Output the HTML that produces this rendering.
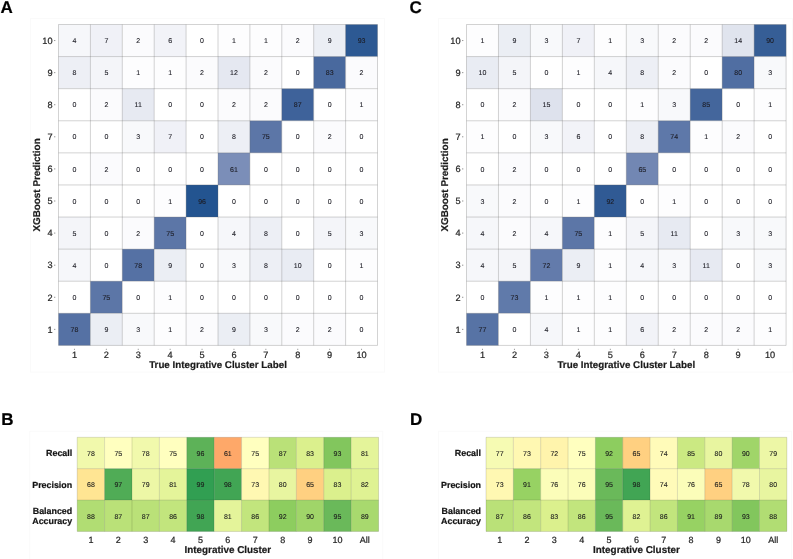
<!DOCTYPE html>
<html><head><meta charset="utf-8"><title>XGBoost confusion matrices</title>
<style>
html,body{margin:0;padding:0;background:#fff;}
body{width:793px;height:559px;overflow:hidden;}
svg{display:block;font-family:'Liberation Sans', Arial, Helvetica, sans-serif;text-rendering:geometricPrecision;}
</style></head>
<body>
<svg width="793" height="559" viewBox="0 0 793 559">
<rect x="0" y="0" width="793" height="559" fill="#fff"/>
<rect x="30.5" y="18.5" width="354.0" height="353.5" fill="none" stroke="#fafafa" stroke-width="1"/>
<text x="0.60" y="13.10" font-size="17" font-weight="bold" text-anchor="start" fill="#000" stroke="#000" stroke-width="0.2">A</text>
<rect x="58.50" y="24.50" width="31.95" height="32.14" fill="#f6f7fa"/>
<rect x="90.40" y="24.50" width="31.95" height="32.14" fill="#f0f1f7"/>
<rect x="122.30" y="24.50" width="31.95" height="32.14" fill="#fbfbfd"/>
<rect x="154.20" y="24.50" width="31.95" height="32.14" fill="#f2f3f8"/>
<rect x="186.10" y="24.50" width="31.95" height="32.14" fill="#ffffff"/>
<rect x="218.00" y="24.50" width="31.95" height="32.14" fill="#fdfdfe"/>
<rect x="249.90" y="24.50" width="31.95" height="32.14" fill="#fdfdfe"/>
<rect x="281.80" y="24.50" width="31.95" height="32.14" fill="#fbfbfd"/>
<rect x="313.70" y="24.50" width="31.95" height="32.14" fill="#ebeef4"/>
<rect x="345.60" y="24.50" width="31.95" height="32.14" fill="#2d5993"/>
<rect x="58.50" y="56.59" width="31.95" height="32.14" fill="#edeff5"/>
<rect x="90.40" y="56.59" width="31.95" height="32.14" fill="#f4f5f9"/>
<rect x="122.30" y="56.59" width="31.95" height="32.14" fill="#fdfdfe"/>
<rect x="154.20" y="56.59" width="31.95" height="32.14" fill="#fdfdfe"/>
<rect x="186.10" y="56.59" width="31.95" height="32.14" fill="#fbfbfd"/>
<rect x="218.00" y="56.59" width="31.95" height="32.14" fill="#e5e8f1"/>
<rect x="249.90" y="56.59" width="31.95" height="32.14" fill="#fbfbfd"/>
<rect x="281.80" y="56.59" width="31.95" height="32.14" fill="#ffffff"/>
<rect x="313.70" y="56.59" width="31.95" height="32.14" fill="#49699e"/>
<rect x="345.60" y="56.59" width="31.95" height="32.14" fill="#fbfbfd"/>
<rect x="58.50" y="88.68" width="31.95" height="32.14" fill="#ffffff"/>
<rect x="90.40" y="88.68" width="31.95" height="32.14" fill="#fbfbfd"/>
<rect x="122.30" y="88.68" width="31.95" height="32.14" fill="#e7eaf2"/>
<rect x="154.20" y="88.68" width="31.95" height="32.14" fill="#ffffff"/>
<rect x="186.10" y="88.68" width="31.95" height="32.14" fill="#ffffff"/>
<rect x="218.00" y="88.68" width="31.95" height="32.14" fill="#fbfbfd"/>
<rect x="249.90" y="88.68" width="31.95" height="32.14" fill="#fbfbfd"/>
<rect x="281.80" y="88.68" width="31.95" height="32.14" fill="#3e629a"/>
<rect x="313.70" y="88.68" width="31.95" height="32.14" fill="#ffffff"/>
<rect x="345.60" y="88.68" width="31.95" height="32.14" fill="#fdfdfe"/>
<rect x="58.50" y="120.77" width="31.95" height="32.14" fill="#ffffff"/>
<rect x="90.40" y="120.77" width="31.95" height="32.14" fill="#ffffff"/>
<rect x="122.30" y="120.77" width="31.95" height="32.14" fill="#f8f9fb"/>
<rect x="154.20" y="120.77" width="31.95" height="32.14" fill="#f0f1f7"/>
<rect x="186.10" y="120.77" width="31.95" height="32.14" fill="#ffffff"/>
<rect x="218.00" y="120.77" width="31.95" height="32.14" fill="#edeff5"/>
<rect x="249.90" y="120.77" width="31.95" height="32.14" fill="#5c76a7"/>
<rect x="281.80" y="120.77" width="31.95" height="32.14" fill="#ffffff"/>
<rect x="313.70" y="120.77" width="31.95" height="32.14" fill="#fbfbfd"/>
<rect x="345.60" y="120.77" width="31.95" height="32.14" fill="#ffffff"/>
<rect x="58.50" y="152.86" width="31.95" height="32.14" fill="#ffffff"/>
<rect x="90.40" y="152.86" width="31.95" height="32.14" fill="#fbfbfd"/>
<rect x="122.30" y="152.86" width="31.95" height="32.14" fill="#ffffff"/>
<rect x="154.20" y="152.86" width="31.95" height="32.14" fill="#ffffff"/>
<rect x="186.10" y="152.86" width="31.95" height="32.14" fill="#ffffff"/>
<rect x="218.00" y="152.86" width="31.95" height="32.14" fill="#7b8eb8"/>
<rect x="249.90" y="152.86" width="31.95" height="32.14" fill="#ffffff"/>
<rect x="281.80" y="152.86" width="31.95" height="32.14" fill="#ffffff"/>
<rect x="313.70" y="152.86" width="31.95" height="32.14" fill="#ffffff"/>
<rect x="345.60" y="152.86" width="31.95" height="32.14" fill="#ffffff"/>
<rect x="58.50" y="184.95" width="31.95" height="32.14" fill="#ffffff"/>
<rect x="90.40" y="184.95" width="31.95" height="32.14" fill="#ffffff"/>
<rect x="122.30" y="184.95" width="31.95" height="32.14" fill="#ffffff"/>
<rect x="154.20" y="184.95" width="31.95" height="32.14" fill="#fdfdfe"/>
<rect x="186.10" y="184.95" width="31.95" height="32.14" fill="#235490"/>
<rect x="218.00" y="184.95" width="31.95" height="32.14" fill="#ffffff"/>
<rect x="249.90" y="184.95" width="31.95" height="32.14" fill="#ffffff"/>
<rect x="281.80" y="184.95" width="31.95" height="32.14" fill="#ffffff"/>
<rect x="313.70" y="184.95" width="31.95" height="32.14" fill="#ffffff"/>
<rect x="345.60" y="184.95" width="31.95" height="32.14" fill="#ffffff"/>
<rect x="58.50" y="217.04" width="31.95" height="32.14" fill="#f4f5f9"/>
<rect x="90.40" y="217.04" width="31.95" height="32.14" fill="#ffffff"/>
<rect x="122.30" y="217.04" width="31.95" height="32.14" fill="#fbfbfd"/>
<rect x="154.20" y="217.04" width="31.95" height="32.14" fill="#5c76a7"/>
<rect x="186.10" y="217.04" width="31.95" height="32.14" fill="#ffffff"/>
<rect x="218.00" y="217.04" width="31.95" height="32.14" fill="#f6f7fa"/>
<rect x="249.90" y="217.04" width="31.95" height="32.14" fill="#edeff5"/>
<rect x="281.80" y="217.04" width="31.95" height="32.14" fill="#ffffff"/>
<rect x="313.70" y="217.04" width="31.95" height="32.14" fill="#f4f5f9"/>
<rect x="345.60" y="217.04" width="31.95" height="32.14" fill="#f8f9fb"/>
<rect x="58.50" y="249.13" width="31.95" height="32.14" fill="#f6f7fa"/>
<rect x="90.40" y="249.13" width="31.95" height="32.14" fill="#ffffff"/>
<rect x="122.30" y="249.13" width="31.95" height="32.14" fill="#5571a4"/>
<rect x="154.20" y="249.13" width="31.95" height="32.14" fill="#ebeef4"/>
<rect x="186.10" y="249.13" width="31.95" height="32.14" fill="#ffffff"/>
<rect x="218.00" y="249.13" width="31.95" height="32.14" fill="#f8f9fb"/>
<rect x="249.90" y="249.13" width="31.95" height="32.14" fill="#edeff5"/>
<rect x="281.80" y="249.13" width="31.95" height="32.14" fill="#e9ecf3"/>
<rect x="313.70" y="249.13" width="31.95" height="32.14" fill="#ffffff"/>
<rect x="345.60" y="249.13" width="31.95" height="32.14" fill="#fdfdfe"/>
<rect x="58.50" y="281.22" width="31.95" height="32.14" fill="#ffffff"/>
<rect x="90.40" y="281.22" width="31.95" height="32.14" fill="#5c76a7"/>
<rect x="122.30" y="281.22" width="31.95" height="32.14" fill="#ffffff"/>
<rect x="154.20" y="281.22" width="31.95" height="32.14" fill="#fdfdfe"/>
<rect x="186.10" y="281.22" width="31.95" height="32.14" fill="#ffffff"/>
<rect x="218.00" y="281.22" width="31.95" height="32.14" fill="#ffffff"/>
<rect x="249.90" y="281.22" width="31.95" height="32.14" fill="#ffffff"/>
<rect x="281.80" y="281.22" width="31.95" height="32.14" fill="#ffffff"/>
<rect x="313.70" y="281.22" width="31.95" height="32.14" fill="#ffffff"/>
<rect x="345.60" y="281.22" width="31.95" height="32.14" fill="#ffffff"/>
<rect x="58.50" y="313.31" width="31.95" height="32.14" fill="#5571a4"/>
<rect x="90.40" y="313.31" width="31.95" height="32.14" fill="#ebeef4"/>
<rect x="122.30" y="313.31" width="31.95" height="32.14" fill="#f8f9fb"/>
<rect x="154.20" y="313.31" width="31.95" height="32.14" fill="#fdfdfe"/>
<rect x="186.10" y="313.31" width="31.95" height="32.14" fill="#fbfbfd"/>
<rect x="218.00" y="313.31" width="31.95" height="32.14" fill="#ebeef4"/>
<rect x="249.90" y="313.31" width="31.95" height="32.14" fill="#f8f9fb"/>
<rect x="281.80" y="313.31" width="31.95" height="32.14" fill="#fbfbfd"/>
<rect x="313.70" y="313.31" width="31.95" height="32.14" fill="#fbfbfd"/>
<rect x="345.60" y="313.31" width="31.95" height="32.14" fill="#ffffff"/>
<path d="M58.50 24.50V345.40M90.40 24.50V345.40M122.30 24.50V345.40M154.20 24.50V345.40M186.10 24.50V345.40M218.00 24.50V345.40M249.90 24.50V345.40M281.80 24.50V345.40M313.70 24.50V345.40M345.60 24.50V345.40M377.50 24.50V345.40M58.50 24.50H377.50M58.50 56.59H377.50M58.50 88.68H377.50M58.50 120.77H377.50M58.50 152.86H377.50M58.50 184.95H377.50M58.50 217.04H377.50M58.50 249.13H377.50M58.50 281.22H377.50M58.50 313.31H377.50M58.50 345.40H377.50" fill="none" stroke="rgba(100,100,100,0.32)" stroke-width="0.9"/>
<text x="74.45" y="43.20" font-size="7.0" font-weight="normal" text-anchor="middle" fill="#1c1c24" stroke="#1c1c24" stroke-width="0.1">4</text>
<text x="106.35" y="43.20" font-size="7.0" font-weight="normal" text-anchor="middle" fill="#1c1c24" stroke="#1c1c24" stroke-width="0.1">7</text>
<text x="138.25" y="43.20" font-size="7.0" font-weight="normal" text-anchor="middle" fill="#1c1c24" stroke="#1c1c24" stroke-width="0.1">2</text>
<text x="170.15" y="43.20" font-size="7.0" font-weight="normal" text-anchor="middle" fill="#1c1c24" stroke="#1c1c24" stroke-width="0.1">6</text>
<text x="202.05" y="43.20" font-size="7.0" font-weight="normal" text-anchor="middle" fill="#1c1c24" stroke="#1c1c24" stroke-width="0.1">0</text>
<text x="233.95" y="43.20" font-size="7.0" font-weight="normal" text-anchor="middle" fill="#1c1c24" stroke="#1c1c24" stroke-width="0.1">1</text>
<text x="265.85" y="43.20" font-size="7.0" font-weight="normal" text-anchor="middle" fill="#1c1c24" stroke="#1c1c24" stroke-width="0.1">1</text>
<text x="297.75" y="43.20" font-size="7.0" font-weight="normal" text-anchor="middle" fill="#1c1c24" stroke="#1c1c24" stroke-width="0.1">2</text>
<text x="329.65" y="43.20" font-size="7.0" font-weight="normal" text-anchor="middle" fill="#1c1c24" stroke="#1c1c24" stroke-width="0.1">9</text>
<text x="361.55" y="43.20" font-size="7.0" font-weight="normal" text-anchor="middle" fill="#1c1c24" stroke="#1c1c24" stroke-width="0.1">93</text>
<text x="74.45" y="75.29" font-size="7.0" font-weight="normal" text-anchor="middle" fill="#1c1c24" stroke="#1c1c24" stroke-width="0.1">8</text>
<text x="106.35" y="75.29" font-size="7.0" font-weight="normal" text-anchor="middle" fill="#1c1c24" stroke="#1c1c24" stroke-width="0.1">5</text>
<text x="138.25" y="75.29" font-size="7.0" font-weight="normal" text-anchor="middle" fill="#1c1c24" stroke="#1c1c24" stroke-width="0.1">1</text>
<text x="170.15" y="75.29" font-size="7.0" font-weight="normal" text-anchor="middle" fill="#1c1c24" stroke="#1c1c24" stroke-width="0.1">1</text>
<text x="202.05" y="75.29" font-size="7.0" font-weight="normal" text-anchor="middle" fill="#1c1c24" stroke="#1c1c24" stroke-width="0.1">2</text>
<text x="233.95" y="75.29" font-size="7.0" font-weight="normal" text-anchor="middle" fill="#1c1c24" stroke="#1c1c24" stroke-width="0.1">12</text>
<text x="265.85" y="75.29" font-size="7.0" font-weight="normal" text-anchor="middle" fill="#1c1c24" stroke="#1c1c24" stroke-width="0.1">2</text>
<text x="297.75" y="75.29" font-size="7.0" font-weight="normal" text-anchor="middle" fill="#1c1c24" stroke="#1c1c24" stroke-width="0.1">0</text>
<text x="329.65" y="75.29" font-size="7.0" font-weight="normal" text-anchor="middle" fill="#1c1c24" stroke="#1c1c24" stroke-width="0.1">83</text>
<text x="361.55" y="75.29" font-size="7.0" font-weight="normal" text-anchor="middle" fill="#1c1c24" stroke="#1c1c24" stroke-width="0.1">2</text>
<text x="74.45" y="107.38" font-size="7.0" font-weight="normal" text-anchor="middle" fill="#1c1c24" stroke="#1c1c24" stroke-width="0.1">0</text>
<text x="106.35" y="107.38" font-size="7.0" font-weight="normal" text-anchor="middle" fill="#1c1c24" stroke="#1c1c24" stroke-width="0.1">2</text>
<text x="138.25" y="107.38" font-size="7.0" font-weight="normal" text-anchor="middle" fill="#1c1c24" stroke="#1c1c24" stroke-width="0.1">11</text>
<text x="170.15" y="107.38" font-size="7.0" font-weight="normal" text-anchor="middle" fill="#1c1c24" stroke="#1c1c24" stroke-width="0.1">0</text>
<text x="202.05" y="107.38" font-size="7.0" font-weight="normal" text-anchor="middle" fill="#1c1c24" stroke="#1c1c24" stroke-width="0.1">0</text>
<text x="233.95" y="107.38" font-size="7.0" font-weight="normal" text-anchor="middle" fill="#1c1c24" stroke="#1c1c24" stroke-width="0.1">2</text>
<text x="265.85" y="107.38" font-size="7.0" font-weight="normal" text-anchor="middle" fill="#1c1c24" stroke="#1c1c24" stroke-width="0.1">2</text>
<text x="297.75" y="107.38" font-size="7.0" font-weight="normal" text-anchor="middle" fill="#1c1c24" stroke="#1c1c24" stroke-width="0.1">87</text>
<text x="329.65" y="107.38" font-size="7.0" font-weight="normal" text-anchor="middle" fill="#1c1c24" stroke="#1c1c24" stroke-width="0.1">0</text>
<text x="361.55" y="107.38" font-size="7.0" font-weight="normal" text-anchor="middle" fill="#1c1c24" stroke="#1c1c24" stroke-width="0.1">1</text>
<text x="74.45" y="139.47" font-size="7.0" font-weight="normal" text-anchor="middle" fill="#1c1c24" stroke="#1c1c24" stroke-width="0.1">0</text>
<text x="106.35" y="139.47" font-size="7.0" font-weight="normal" text-anchor="middle" fill="#1c1c24" stroke="#1c1c24" stroke-width="0.1">0</text>
<text x="138.25" y="139.47" font-size="7.0" font-weight="normal" text-anchor="middle" fill="#1c1c24" stroke="#1c1c24" stroke-width="0.1">3</text>
<text x="170.15" y="139.47" font-size="7.0" font-weight="normal" text-anchor="middle" fill="#1c1c24" stroke="#1c1c24" stroke-width="0.1">7</text>
<text x="202.05" y="139.47" font-size="7.0" font-weight="normal" text-anchor="middle" fill="#1c1c24" stroke="#1c1c24" stroke-width="0.1">0</text>
<text x="233.95" y="139.47" font-size="7.0" font-weight="normal" text-anchor="middle" fill="#1c1c24" stroke="#1c1c24" stroke-width="0.1">8</text>
<text x="265.85" y="139.47" font-size="7.0" font-weight="normal" text-anchor="middle" fill="#1c1c24" stroke="#1c1c24" stroke-width="0.1">75</text>
<text x="297.75" y="139.47" font-size="7.0" font-weight="normal" text-anchor="middle" fill="#1c1c24" stroke="#1c1c24" stroke-width="0.1">0</text>
<text x="329.65" y="139.47" font-size="7.0" font-weight="normal" text-anchor="middle" fill="#1c1c24" stroke="#1c1c24" stroke-width="0.1">2</text>
<text x="361.55" y="139.47" font-size="7.0" font-weight="normal" text-anchor="middle" fill="#1c1c24" stroke="#1c1c24" stroke-width="0.1">0</text>
<text x="74.45" y="171.56" font-size="7.0" font-weight="normal" text-anchor="middle" fill="#1c1c24" stroke="#1c1c24" stroke-width="0.1">0</text>
<text x="106.35" y="171.56" font-size="7.0" font-weight="normal" text-anchor="middle" fill="#1c1c24" stroke="#1c1c24" stroke-width="0.1">2</text>
<text x="138.25" y="171.56" font-size="7.0" font-weight="normal" text-anchor="middle" fill="#1c1c24" stroke="#1c1c24" stroke-width="0.1">0</text>
<text x="170.15" y="171.56" font-size="7.0" font-weight="normal" text-anchor="middle" fill="#1c1c24" stroke="#1c1c24" stroke-width="0.1">0</text>
<text x="202.05" y="171.56" font-size="7.0" font-weight="normal" text-anchor="middle" fill="#1c1c24" stroke="#1c1c24" stroke-width="0.1">0</text>
<text x="233.95" y="171.56" font-size="7.0" font-weight="normal" text-anchor="middle" fill="#1c1c24" stroke="#1c1c24" stroke-width="0.1">61</text>
<text x="265.85" y="171.56" font-size="7.0" font-weight="normal" text-anchor="middle" fill="#1c1c24" stroke="#1c1c24" stroke-width="0.1">0</text>
<text x="297.75" y="171.56" font-size="7.0" font-weight="normal" text-anchor="middle" fill="#1c1c24" stroke="#1c1c24" stroke-width="0.1">0</text>
<text x="329.65" y="171.56" font-size="7.0" font-weight="normal" text-anchor="middle" fill="#1c1c24" stroke="#1c1c24" stroke-width="0.1">0</text>
<text x="361.55" y="171.56" font-size="7.0" font-weight="normal" text-anchor="middle" fill="#1c1c24" stroke="#1c1c24" stroke-width="0.1">0</text>
<text x="74.45" y="203.65" font-size="7.0" font-weight="normal" text-anchor="middle" fill="#1c1c24" stroke="#1c1c24" stroke-width="0.1">0</text>
<text x="106.35" y="203.65" font-size="7.0" font-weight="normal" text-anchor="middle" fill="#1c1c24" stroke="#1c1c24" stroke-width="0.1">0</text>
<text x="138.25" y="203.65" font-size="7.0" font-weight="normal" text-anchor="middle" fill="#1c1c24" stroke="#1c1c24" stroke-width="0.1">0</text>
<text x="170.15" y="203.65" font-size="7.0" font-weight="normal" text-anchor="middle" fill="#1c1c24" stroke="#1c1c24" stroke-width="0.1">1</text>
<text x="202.05" y="203.65" font-size="7.0" font-weight="normal" text-anchor="middle" fill="#1c1c24" stroke="#1c1c24" stroke-width="0.1">96</text>
<text x="233.95" y="203.65" font-size="7.0" font-weight="normal" text-anchor="middle" fill="#1c1c24" stroke="#1c1c24" stroke-width="0.1">0</text>
<text x="265.85" y="203.65" font-size="7.0" font-weight="normal" text-anchor="middle" fill="#1c1c24" stroke="#1c1c24" stroke-width="0.1">0</text>
<text x="297.75" y="203.65" font-size="7.0" font-weight="normal" text-anchor="middle" fill="#1c1c24" stroke="#1c1c24" stroke-width="0.1">0</text>
<text x="329.65" y="203.65" font-size="7.0" font-weight="normal" text-anchor="middle" fill="#1c1c24" stroke="#1c1c24" stroke-width="0.1">0</text>
<text x="361.55" y="203.65" font-size="7.0" font-weight="normal" text-anchor="middle" fill="#1c1c24" stroke="#1c1c24" stroke-width="0.1">0</text>
<text x="74.45" y="235.74" font-size="7.0" font-weight="normal" text-anchor="middle" fill="#1c1c24" stroke="#1c1c24" stroke-width="0.1">5</text>
<text x="106.35" y="235.74" font-size="7.0" font-weight="normal" text-anchor="middle" fill="#1c1c24" stroke="#1c1c24" stroke-width="0.1">0</text>
<text x="138.25" y="235.74" font-size="7.0" font-weight="normal" text-anchor="middle" fill="#1c1c24" stroke="#1c1c24" stroke-width="0.1">2</text>
<text x="170.15" y="235.74" font-size="7.0" font-weight="normal" text-anchor="middle" fill="#1c1c24" stroke="#1c1c24" stroke-width="0.1">75</text>
<text x="202.05" y="235.74" font-size="7.0" font-weight="normal" text-anchor="middle" fill="#1c1c24" stroke="#1c1c24" stroke-width="0.1">0</text>
<text x="233.95" y="235.74" font-size="7.0" font-weight="normal" text-anchor="middle" fill="#1c1c24" stroke="#1c1c24" stroke-width="0.1">4</text>
<text x="265.85" y="235.74" font-size="7.0" font-weight="normal" text-anchor="middle" fill="#1c1c24" stroke="#1c1c24" stroke-width="0.1">8</text>
<text x="297.75" y="235.74" font-size="7.0" font-weight="normal" text-anchor="middle" fill="#1c1c24" stroke="#1c1c24" stroke-width="0.1">0</text>
<text x="329.65" y="235.74" font-size="7.0" font-weight="normal" text-anchor="middle" fill="#1c1c24" stroke="#1c1c24" stroke-width="0.1">5</text>
<text x="361.55" y="235.74" font-size="7.0" font-weight="normal" text-anchor="middle" fill="#1c1c24" stroke="#1c1c24" stroke-width="0.1">3</text>
<text x="74.45" y="267.82" font-size="7.0" font-weight="normal" text-anchor="middle" fill="#1c1c24" stroke="#1c1c24" stroke-width="0.1">4</text>
<text x="106.35" y="267.82" font-size="7.0" font-weight="normal" text-anchor="middle" fill="#1c1c24" stroke="#1c1c24" stroke-width="0.1">0</text>
<text x="138.25" y="267.82" font-size="7.0" font-weight="normal" text-anchor="middle" fill="#1c1c24" stroke="#1c1c24" stroke-width="0.1">78</text>
<text x="170.15" y="267.82" font-size="7.0" font-weight="normal" text-anchor="middle" fill="#1c1c24" stroke="#1c1c24" stroke-width="0.1">9</text>
<text x="202.05" y="267.82" font-size="7.0" font-weight="normal" text-anchor="middle" fill="#1c1c24" stroke="#1c1c24" stroke-width="0.1">0</text>
<text x="233.95" y="267.82" font-size="7.0" font-weight="normal" text-anchor="middle" fill="#1c1c24" stroke="#1c1c24" stroke-width="0.1">3</text>
<text x="265.85" y="267.82" font-size="7.0" font-weight="normal" text-anchor="middle" fill="#1c1c24" stroke="#1c1c24" stroke-width="0.1">8</text>
<text x="297.75" y="267.82" font-size="7.0" font-weight="normal" text-anchor="middle" fill="#1c1c24" stroke="#1c1c24" stroke-width="0.1">10</text>
<text x="329.65" y="267.82" font-size="7.0" font-weight="normal" text-anchor="middle" fill="#1c1c24" stroke="#1c1c24" stroke-width="0.1">0</text>
<text x="361.55" y="267.82" font-size="7.0" font-weight="normal" text-anchor="middle" fill="#1c1c24" stroke="#1c1c24" stroke-width="0.1">1</text>
<text x="74.45" y="299.92" font-size="7.0" font-weight="normal" text-anchor="middle" fill="#1c1c24" stroke="#1c1c24" stroke-width="0.1">0</text>
<text x="106.35" y="299.92" font-size="7.0" font-weight="normal" text-anchor="middle" fill="#1c1c24" stroke="#1c1c24" stroke-width="0.1">75</text>
<text x="138.25" y="299.92" font-size="7.0" font-weight="normal" text-anchor="middle" fill="#1c1c24" stroke="#1c1c24" stroke-width="0.1">0</text>
<text x="170.15" y="299.92" font-size="7.0" font-weight="normal" text-anchor="middle" fill="#1c1c24" stroke="#1c1c24" stroke-width="0.1">1</text>
<text x="202.05" y="299.92" font-size="7.0" font-weight="normal" text-anchor="middle" fill="#1c1c24" stroke="#1c1c24" stroke-width="0.1">0</text>
<text x="233.95" y="299.92" font-size="7.0" font-weight="normal" text-anchor="middle" fill="#1c1c24" stroke="#1c1c24" stroke-width="0.1">0</text>
<text x="265.85" y="299.92" font-size="7.0" font-weight="normal" text-anchor="middle" fill="#1c1c24" stroke="#1c1c24" stroke-width="0.1">0</text>
<text x="297.75" y="299.92" font-size="7.0" font-weight="normal" text-anchor="middle" fill="#1c1c24" stroke="#1c1c24" stroke-width="0.1">0</text>
<text x="329.65" y="299.92" font-size="7.0" font-weight="normal" text-anchor="middle" fill="#1c1c24" stroke="#1c1c24" stroke-width="0.1">0</text>
<text x="361.55" y="299.92" font-size="7.0" font-weight="normal" text-anchor="middle" fill="#1c1c24" stroke="#1c1c24" stroke-width="0.1">0</text>
<text x="74.45" y="332.01" font-size="7.0" font-weight="normal" text-anchor="middle" fill="#1c1c24" stroke="#1c1c24" stroke-width="0.1">78</text>
<text x="106.35" y="332.01" font-size="7.0" font-weight="normal" text-anchor="middle" fill="#1c1c24" stroke="#1c1c24" stroke-width="0.1">9</text>
<text x="138.25" y="332.01" font-size="7.0" font-weight="normal" text-anchor="middle" fill="#1c1c24" stroke="#1c1c24" stroke-width="0.1">3</text>
<text x="170.15" y="332.01" font-size="7.0" font-weight="normal" text-anchor="middle" fill="#1c1c24" stroke="#1c1c24" stroke-width="0.1">1</text>
<text x="202.05" y="332.01" font-size="7.0" font-weight="normal" text-anchor="middle" fill="#1c1c24" stroke="#1c1c24" stroke-width="0.1">2</text>
<text x="233.95" y="332.01" font-size="7.0" font-weight="normal" text-anchor="middle" fill="#1c1c24" stroke="#1c1c24" stroke-width="0.1">9</text>
<text x="265.85" y="332.01" font-size="7.0" font-weight="normal" text-anchor="middle" fill="#1c1c24" stroke="#1c1c24" stroke-width="0.1">3</text>
<text x="297.75" y="332.01" font-size="7.0" font-weight="normal" text-anchor="middle" fill="#1c1c24" stroke="#1c1c24" stroke-width="0.1">2</text>
<text x="329.65" y="332.01" font-size="7.0" font-weight="normal" text-anchor="middle" fill="#1c1c24" stroke="#1c1c24" stroke-width="0.1">2</text>
<text x="361.55" y="332.01" font-size="7.0" font-weight="normal" text-anchor="middle" fill="#1c1c24" stroke="#1c1c24" stroke-width="0.1">0</text>
<text x="52.60" y="43.84" font-size="9.2" font-weight="normal" text-anchor="end" fill="#262626" stroke="#262626" stroke-width="0.22">10</text>
<rect x="54.10" y="40.05" width="1.2" height="1" fill="#888"/>
<text x="52.60" y="75.94" font-size="9.2" font-weight="normal" text-anchor="end" fill="#262626" stroke="#262626" stroke-width="0.22">9</text>
<rect x="54.10" y="72.14" width="1.2" height="1" fill="#888"/>
<text x="52.60" y="108.03" font-size="9.2" font-weight="normal" text-anchor="end" fill="#262626" stroke="#262626" stroke-width="0.22">8</text>
<rect x="54.10" y="104.23" width="1.2" height="1" fill="#888"/>
<text x="52.60" y="140.12" font-size="9.2" font-weight="normal" text-anchor="end" fill="#262626" stroke="#262626" stroke-width="0.22">7</text>
<rect x="54.10" y="136.31" width="1.2" height="1" fill="#888"/>
<text x="52.60" y="172.21" font-size="9.2" font-weight="normal" text-anchor="end" fill="#262626" stroke="#262626" stroke-width="0.22">6</text>
<rect x="54.10" y="168.41" width="1.2" height="1" fill="#888"/>
<text x="52.60" y="204.30" font-size="9.2" font-weight="normal" text-anchor="end" fill="#262626" stroke="#262626" stroke-width="0.22">5</text>
<rect x="54.10" y="200.50" width="1.2" height="1" fill="#888"/>
<text x="52.60" y="236.39" font-size="9.2" font-weight="normal" text-anchor="end" fill="#262626" stroke="#262626" stroke-width="0.22">4</text>
<rect x="54.10" y="232.59" width="1.2" height="1" fill="#888"/>
<text x="52.60" y="268.48" font-size="9.2" font-weight="normal" text-anchor="end" fill="#262626" stroke="#262626" stroke-width="0.22">3</text>
<rect x="54.10" y="264.68" width="1.2" height="1" fill="#888"/>
<text x="52.60" y="300.57" font-size="9.2" font-weight="normal" text-anchor="end" fill="#262626" stroke="#262626" stroke-width="0.22">2</text>
<rect x="54.10" y="296.77" width="1.2" height="1" fill="#888"/>
<text x="52.60" y="332.66" font-size="9.2" font-weight="normal" text-anchor="end" fill="#262626" stroke="#262626" stroke-width="0.22">1</text>
<rect x="54.10" y="328.86" width="1.2" height="1" fill="#888"/>
<text x="74.45" y="357.90" font-size="9.2" font-weight="normal" text-anchor="middle" fill="#262626" stroke="#262626" stroke-width="0.22">1</text>
<rect x="73.95" y="348.80" width="1" height="1" fill="#888"/>
<text x="106.35" y="357.90" font-size="9.2" font-weight="normal" text-anchor="middle" fill="#262626" stroke="#262626" stroke-width="0.22">2</text>
<rect x="105.85" y="348.80" width="1" height="1" fill="#888"/>
<text x="138.25" y="357.90" font-size="9.2" font-weight="normal" text-anchor="middle" fill="#262626" stroke="#262626" stroke-width="0.22">3</text>
<rect x="137.75" y="348.80" width="1" height="1" fill="#888"/>
<text x="170.15" y="357.90" font-size="9.2" font-weight="normal" text-anchor="middle" fill="#262626" stroke="#262626" stroke-width="0.22">4</text>
<rect x="169.65" y="348.80" width="1" height="1" fill="#888"/>
<text x="202.05" y="357.90" font-size="9.2" font-weight="normal" text-anchor="middle" fill="#262626" stroke="#262626" stroke-width="0.22">5</text>
<rect x="201.55" y="348.80" width="1" height="1" fill="#888"/>
<text x="233.95" y="357.90" font-size="9.2" font-weight="normal" text-anchor="middle" fill="#262626" stroke="#262626" stroke-width="0.22">6</text>
<rect x="233.45" y="348.80" width="1" height="1" fill="#888"/>
<text x="265.85" y="357.90" font-size="9.2" font-weight="normal" text-anchor="middle" fill="#262626" stroke="#262626" stroke-width="0.22">7</text>
<rect x="265.35" y="348.80" width="1" height="1" fill="#888"/>
<text x="297.75" y="357.90" font-size="9.2" font-weight="normal" text-anchor="middle" fill="#262626" stroke="#262626" stroke-width="0.22">8</text>
<rect x="297.25" y="348.80" width="1" height="1" fill="#888"/>
<text x="329.65" y="357.90" font-size="9.2" font-weight="normal" text-anchor="middle" fill="#262626" stroke="#262626" stroke-width="0.22">9</text>
<rect x="329.15" y="348.80" width="1" height="1" fill="#888"/>
<text x="361.55" y="357.90" font-size="9.2" font-weight="normal" text-anchor="middle" fill="#262626" stroke="#262626" stroke-width="0.22">10</text>
<rect x="361.05" y="348.80" width="1" height="1" fill="#888"/>
<text x="218.00" y="367.60" font-size="9.8" font-weight="bold" text-anchor="middle" fill="#1a1a1a" stroke="#1a1a1a" stroke-width="0.2">True Integrative Cluster Label</text>
<text transform="translate(39.70,184.95) rotate(-90)" x="0" y="0" font-size="9.9" font-weight="bold" text-anchor="middle" fill="#1a1a1a" stroke="#1a1a1a" stroke-width="0.2">XGBoost Prediction</text>
<rect x="438.5" y="18.5" width="354.0" height="353.5" fill="none" stroke="#fafafa" stroke-width="1"/>
<text x="409.60" y="13.10" font-size="17" font-weight="bold" text-anchor="start" fill="#000" stroke="#000" stroke-width="0.2">C</text>
<rect x="466.50" y="24.50" width="32.01" height="32.14" fill="#fdfdfe"/>
<rect x="498.46" y="24.50" width="32.01" height="32.14" fill="#ebeef4"/>
<rect x="530.42" y="24.50" width="32.01" height="32.14" fill="#f8f9fb"/>
<rect x="562.38" y="24.50" width="32.01" height="32.14" fill="#f0f1f7"/>
<rect x="594.34" y="24.50" width="32.01" height="32.14" fill="#fdfdfe"/>
<rect x="626.30" y="24.50" width="32.01" height="32.14" fill="#f8f9fb"/>
<rect x="658.26" y="24.50" width="32.01" height="32.14" fill="#fbfbfd"/>
<rect x="690.22" y="24.50" width="32.01" height="32.14" fill="#fbfbfd"/>
<rect x="722.18" y="24.50" width="32.01" height="32.14" fill="#e0e4ee"/>
<rect x="754.14" y="24.50" width="32.01" height="32.14" fill="#365e96"/>
<rect x="466.50" y="56.59" width="32.01" height="32.14" fill="#e9ecf3"/>
<rect x="498.46" y="56.59" width="32.01" height="32.14" fill="#f4f5f9"/>
<rect x="530.42" y="56.59" width="32.01" height="32.14" fill="#ffffff"/>
<rect x="562.38" y="56.59" width="32.01" height="32.14" fill="#fdfdfe"/>
<rect x="594.34" y="56.59" width="32.01" height="32.14" fill="#f6f7fa"/>
<rect x="626.30" y="56.59" width="32.01" height="32.14" fill="#edeff5"/>
<rect x="658.26" y="56.59" width="32.01" height="32.14" fill="#fbfbfd"/>
<rect x="690.22" y="56.59" width="32.01" height="32.14" fill="#ffffff"/>
<rect x="722.18" y="56.59" width="32.01" height="32.14" fill="#506ea2"/>
<rect x="754.14" y="56.59" width="32.01" height="32.14" fill="#f8f9fb"/>
<rect x="466.50" y="88.68" width="32.01" height="32.14" fill="#ffffff"/>
<rect x="498.46" y="88.68" width="32.01" height="32.14" fill="#fbfbfd"/>
<rect x="530.42" y="88.68" width="32.01" height="32.14" fill="#dee2ed"/>
<rect x="562.38" y="88.68" width="32.01" height="32.14" fill="#ffffff"/>
<rect x="594.34" y="88.68" width="32.01" height="32.14" fill="#ffffff"/>
<rect x="626.30" y="88.68" width="32.01" height="32.14" fill="#fdfdfe"/>
<rect x="658.26" y="88.68" width="32.01" height="32.14" fill="#f8f9fb"/>
<rect x="690.22" y="88.68" width="32.01" height="32.14" fill="#44669c"/>
<rect x="722.18" y="88.68" width="32.01" height="32.14" fill="#ffffff"/>
<rect x="754.14" y="88.68" width="32.01" height="32.14" fill="#fdfdfe"/>
<rect x="466.50" y="120.77" width="32.01" height="32.14" fill="#fdfdfe"/>
<rect x="498.46" y="120.77" width="32.01" height="32.14" fill="#ffffff"/>
<rect x="530.42" y="120.77" width="32.01" height="32.14" fill="#f8f9fb"/>
<rect x="562.38" y="120.77" width="32.01" height="32.14" fill="#f2f3f8"/>
<rect x="594.34" y="120.77" width="32.01" height="32.14" fill="#ffffff"/>
<rect x="626.30" y="120.77" width="32.01" height="32.14" fill="#edeff5"/>
<rect x="658.26" y="120.77" width="32.01" height="32.14" fill="#5e78a9"/>
<rect x="690.22" y="120.77" width="32.01" height="32.14" fill="#fdfdfe"/>
<rect x="722.18" y="120.77" width="32.01" height="32.14" fill="#fbfbfd"/>
<rect x="754.14" y="120.77" width="32.01" height="32.14" fill="#ffffff"/>
<rect x="466.50" y="152.86" width="32.01" height="32.14" fill="#ffffff"/>
<rect x="498.46" y="152.86" width="32.01" height="32.14" fill="#fbfbfd"/>
<rect x="530.42" y="152.86" width="32.01" height="32.14" fill="#ffffff"/>
<rect x="562.38" y="152.86" width="32.01" height="32.14" fill="#ffffff"/>
<rect x="594.34" y="152.86" width="32.01" height="32.14" fill="#ffffff"/>
<rect x="626.30" y="152.86" width="32.01" height="32.14" fill="#7287b3"/>
<rect x="658.26" y="152.86" width="32.01" height="32.14" fill="#ffffff"/>
<rect x="690.22" y="152.86" width="32.01" height="32.14" fill="#ffffff"/>
<rect x="722.18" y="152.86" width="32.01" height="32.14" fill="#ffffff"/>
<rect x="754.14" y="152.86" width="32.01" height="32.14" fill="#ffffff"/>
<rect x="466.50" y="184.95" width="32.01" height="32.14" fill="#f8f9fb"/>
<rect x="498.46" y="184.95" width="32.01" height="32.14" fill="#fbfbfd"/>
<rect x="530.42" y="184.95" width="32.01" height="32.14" fill="#ffffff"/>
<rect x="562.38" y="184.95" width="32.01" height="32.14" fill="#fdfdfe"/>
<rect x="594.34" y="184.95" width="32.01" height="32.14" fill="#305a94"/>
<rect x="626.30" y="184.95" width="32.01" height="32.14" fill="#ffffff"/>
<rect x="658.26" y="184.95" width="32.01" height="32.14" fill="#fdfdfe"/>
<rect x="690.22" y="184.95" width="32.01" height="32.14" fill="#ffffff"/>
<rect x="722.18" y="184.95" width="32.01" height="32.14" fill="#ffffff"/>
<rect x="754.14" y="184.95" width="32.01" height="32.14" fill="#ffffff"/>
<rect x="466.50" y="217.04" width="32.01" height="32.14" fill="#f6f7fa"/>
<rect x="498.46" y="217.04" width="32.01" height="32.14" fill="#fbfbfd"/>
<rect x="530.42" y="217.04" width="32.01" height="32.14" fill="#f6f7fa"/>
<rect x="562.38" y="217.04" width="32.01" height="32.14" fill="#5c76a7"/>
<rect x="594.34" y="217.04" width="32.01" height="32.14" fill="#fdfdfe"/>
<rect x="626.30" y="217.04" width="32.01" height="32.14" fill="#f4f5f9"/>
<rect x="658.26" y="217.04" width="32.01" height="32.14" fill="#e7eaf2"/>
<rect x="690.22" y="217.04" width="32.01" height="32.14" fill="#ffffff"/>
<rect x="722.18" y="217.04" width="32.01" height="32.14" fill="#f8f9fb"/>
<rect x="754.14" y="217.04" width="32.01" height="32.14" fill="#f8f9fb"/>
<rect x="466.50" y="249.13" width="32.01" height="32.14" fill="#f6f7fa"/>
<rect x="498.46" y="249.13" width="32.01" height="32.14" fill="#f4f5f9"/>
<rect x="530.42" y="249.13" width="32.01" height="32.14" fill="#637bab"/>
<rect x="562.38" y="249.13" width="32.01" height="32.14" fill="#ebeef4"/>
<rect x="594.34" y="249.13" width="32.01" height="32.14" fill="#fdfdfe"/>
<rect x="626.30" y="249.13" width="32.01" height="32.14" fill="#f6f7fa"/>
<rect x="658.26" y="249.13" width="32.01" height="32.14" fill="#f8f9fb"/>
<rect x="690.22" y="249.13" width="32.01" height="32.14" fill="#e7eaf2"/>
<rect x="722.18" y="249.13" width="32.01" height="32.14" fill="#ffffff"/>
<rect x="754.14" y="249.13" width="32.01" height="32.14" fill="#f8f9fb"/>
<rect x="466.50" y="281.22" width="32.01" height="32.14" fill="#ffffff"/>
<rect x="498.46" y="281.22" width="32.01" height="32.14" fill="#607aaa"/>
<rect x="530.42" y="281.22" width="32.01" height="32.14" fill="#fdfdfe"/>
<rect x="562.38" y="281.22" width="32.01" height="32.14" fill="#fdfdfe"/>
<rect x="594.34" y="281.22" width="32.01" height="32.14" fill="#fdfdfe"/>
<rect x="626.30" y="281.22" width="32.01" height="32.14" fill="#ffffff"/>
<rect x="658.26" y="281.22" width="32.01" height="32.14" fill="#ffffff"/>
<rect x="690.22" y="281.22" width="32.01" height="32.14" fill="#ffffff"/>
<rect x="722.18" y="281.22" width="32.01" height="32.14" fill="#ffffff"/>
<rect x="754.14" y="281.22" width="32.01" height="32.14" fill="#ffffff"/>
<rect x="466.50" y="313.31" width="32.01" height="32.14" fill="#5773a5"/>
<rect x="498.46" y="313.31" width="32.01" height="32.14" fill="#ffffff"/>
<rect x="530.42" y="313.31" width="32.01" height="32.14" fill="#f6f7fa"/>
<rect x="562.38" y="313.31" width="32.01" height="32.14" fill="#fdfdfe"/>
<rect x="594.34" y="313.31" width="32.01" height="32.14" fill="#fdfdfe"/>
<rect x="626.30" y="313.31" width="32.01" height="32.14" fill="#f2f3f8"/>
<rect x="658.26" y="313.31" width="32.01" height="32.14" fill="#fbfbfd"/>
<rect x="690.22" y="313.31" width="32.01" height="32.14" fill="#fbfbfd"/>
<rect x="722.18" y="313.31" width="32.01" height="32.14" fill="#fbfbfd"/>
<rect x="754.14" y="313.31" width="32.01" height="32.14" fill="#fdfdfe"/>
<path d="M466.50 24.50V345.40M498.46 24.50V345.40M530.42 24.50V345.40M562.38 24.50V345.40M594.34 24.50V345.40M626.30 24.50V345.40M658.26 24.50V345.40M690.22 24.50V345.40M722.18 24.50V345.40M754.14 24.50V345.40M786.10 24.50V345.40M466.50 24.50H786.10M466.50 56.59H786.10M466.50 88.68H786.10M466.50 120.77H786.10M466.50 152.86H786.10M466.50 184.95H786.10M466.50 217.04H786.10M466.50 249.13H786.10M466.50 281.22H786.10M466.50 313.31H786.10M466.50 345.40H786.10" fill="none" stroke="rgba(100,100,100,0.32)" stroke-width="0.9"/>
<text x="482.48" y="43.20" font-size="7.0" font-weight="normal" text-anchor="middle" fill="#1c1c24" stroke="#1c1c24" stroke-width="0.1">1</text>
<text x="514.44" y="43.20" font-size="7.0" font-weight="normal" text-anchor="middle" fill="#1c1c24" stroke="#1c1c24" stroke-width="0.1">9</text>
<text x="546.40" y="43.20" font-size="7.0" font-weight="normal" text-anchor="middle" fill="#1c1c24" stroke="#1c1c24" stroke-width="0.1">3</text>
<text x="578.36" y="43.20" font-size="7.0" font-weight="normal" text-anchor="middle" fill="#1c1c24" stroke="#1c1c24" stroke-width="0.1">7</text>
<text x="610.32" y="43.20" font-size="7.0" font-weight="normal" text-anchor="middle" fill="#1c1c24" stroke="#1c1c24" stroke-width="0.1">1</text>
<text x="642.28" y="43.20" font-size="7.0" font-weight="normal" text-anchor="middle" fill="#1c1c24" stroke="#1c1c24" stroke-width="0.1">3</text>
<text x="674.24" y="43.20" font-size="7.0" font-weight="normal" text-anchor="middle" fill="#1c1c24" stroke="#1c1c24" stroke-width="0.1">2</text>
<text x="706.20" y="43.20" font-size="7.0" font-weight="normal" text-anchor="middle" fill="#1c1c24" stroke="#1c1c24" stroke-width="0.1">2</text>
<text x="738.16" y="43.20" font-size="7.0" font-weight="normal" text-anchor="middle" fill="#1c1c24" stroke="#1c1c24" stroke-width="0.1">14</text>
<text x="770.12" y="43.20" font-size="7.0" font-weight="normal" text-anchor="middle" fill="#1c1c24" stroke="#1c1c24" stroke-width="0.1">90</text>
<text x="482.48" y="75.29" font-size="7.0" font-weight="normal" text-anchor="middle" fill="#1c1c24" stroke="#1c1c24" stroke-width="0.1">10</text>
<text x="514.44" y="75.29" font-size="7.0" font-weight="normal" text-anchor="middle" fill="#1c1c24" stroke="#1c1c24" stroke-width="0.1">5</text>
<text x="546.40" y="75.29" font-size="7.0" font-weight="normal" text-anchor="middle" fill="#1c1c24" stroke="#1c1c24" stroke-width="0.1">0</text>
<text x="578.36" y="75.29" font-size="7.0" font-weight="normal" text-anchor="middle" fill="#1c1c24" stroke="#1c1c24" stroke-width="0.1">1</text>
<text x="610.32" y="75.29" font-size="7.0" font-weight="normal" text-anchor="middle" fill="#1c1c24" stroke="#1c1c24" stroke-width="0.1">4</text>
<text x="642.28" y="75.29" font-size="7.0" font-weight="normal" text-anchor="middle" fill="#1c1c24" stroke="#1c1c24" stroke-width="0.1">8</text>
<text x="674.24" y="75.29" font-size="7.0" font-weight="normal" text-anchor="middle" fill="#1c1c24" stroke="#1c1c24" stroke-width="0.1">2</text>
<text x="706.20" y="75.29" font-size="7.0" font-weight="normal" text-anchor="middle" fill="#1c1c24" stroke="#1c1c24" stroke-width="0.1">0</text>
<text x="738.16" y="75.29" font-size="7.0" font-weight="normal" text-anchor="middle" fill="#1c1c24" stroke="#1c1c24" stroke-width="0.1">80</text>
<text x="770.12" y="75.29" font-size="7.0" font-weight="normal" text-anchor="middle" fill="#1c1c24" stroke="#1c1c24" stroke-width="0.1">3</text>
<text x="482.48" y="107.38" font-size="7.0" font-weight="normal" text-anchor="middle" fill="#1c1c24" stroke="#1c1c24" stroke-width="0.1">0</text>
<text x="514.44" y="107.38" font-size="7.0" font-weight="normal" text-anchor="middle" fill="#1c1c24" stroke="#1c1c24" stroke-width="0.1">2</text>
<text x="546.40" y="107.38" font-size="7.0" font-weight="normal" text-anchor="middle" fill="#1c1c24" stroke="#1c1c24" stroke-width="0.1">15</text>
<text x="578.36" y="107.38" font-size="7.0" font-weight="normal" text-anchor="middle" fill="#1c1c24" stroke="#1c1c24" stroke-width="0.1">0</text>
<text x="610.32" y="107.38" font-size="7.0" font-weight="normal" text-anchor="middle" fill="#1c1c24" stroke="#1c1c24" stroke-width="0.1">0</text>
<text x="642.28" y="107.38" font-size="7.0" font-weight="normal" text-anchor="middle" fill="#1c1c24" stroke="#1c1c24" stroke-width="0.1">1</text>
<text x="674.24" y="107.38" font-size="7.0" font-weight="normal" text-anchor="middle" fill="#1c1c24" stroke="#1c1c24" stroke-width="0.1">3</text>
<text x="706.20" y="107.38" font-size="7.0" font-weight="normal" text-anchor="middle" fill="#1c1c24" stroke="#1c1c24" stroke-width="0.1">85</text>
<text x="738.16" y="107.38" font-size="7.0" font-weight="normal" text-anchor="middle" fill="#1c1c24" stroke="#1c1c24" stroke-width="0.1">0</text>
<text x="770.12" y="107.38" font-size="7.0" font-weight="normal" text-anchor="middle" fill="#1c1c24" stroke="#1c1c24" stroke-width="0.1">1</text>
<text x="482.48" y="139.47" font-size="7.0" font-weight="normal" text-anchor="middle" fill="#1c1c24" stroke="#1c1c24" stroke-width="0.1">1</text>
<text x="514.44" y="139.47" font-size="7.0" font-weight="normal" text-anchor="middle" fill="#1c1c24" stroke="#1c1c24" stroke-width="0.1">0</text>
<text x="546.40" y="139.47" font-size="7.0" font-weight="normal" text-anchor="middle" fill="#1c1c24" stroke="#1c1c24" stroke-width="0.1">3</text>
<text x="578.36" y="139.47" font-size="7.0" font-weight="normal" text-anchor="middle" fill="#1c1c24" stroke="#1c1c24" stroke-width="0.1">6</text>
<text x="610.32" y="139.47" font-size="7.0" font-weight="normal" text-anchor="middle" fill="#1c1c24" stroke="#1c1c24" stroke-width="0.1">0</text>
<text x="642.28" y="139.47" font-size="7.0" font-weight="normal" text-anchor="middle" fill="#1c1c24" stroke="#1c1c24" stroke-width="0.1">8</text>
<text x="674.24" y="139.47" font-size="7.0" font-weight="normal" text-anchor="middle" fill="#1c1c24" stroke="#1c1c24" stroke-width="0.1">74</text>
<text x="706.20" y="139.47" font-size="7.0" font-weight="normal" text-anchor="middle" fill="#1c1c24" stroke="#1c1c24" stroke-width="0.1">1</text>
<text x="738.16" y="139.47" font-size="7.0" font-weight="normal" text-anchor="middle" fill="#1c1c24" stroke="#1c1c24" stroke-width="0.1">2</text>
<text x="770.12" y="139.47" font-size="7.0" font-weight="normal" text-anchor="middle" fill="#1c1c24" stroke="#1c1c24" stroke-width="0.1">0</text>
<text x="482.48" y="171.56" font-size="7.0" font-weight="normal" text-anchor="middle" fill="#1c1c24" stroke="#1c1c24" stroke-width="0.1">0</text>
<text x="514.44" y="171.56" font-size="7.0" font-weight="normal" text-anchor="middle" fill="#1c1c24" stroke="#1c1c24" stroke-width="0.1">2</text>
<text x="546.40" y="171.56" font-size="7.0" font-weight="normal" text-anchor="middle" fill="#1c1c24" stroke="#1c1c24" stroke-width="0.1">0</text>
<text x="578.36" y="171.56" font-size="7.0" font-weight="normal" text-anchor="middle" fill="#1c1c24" stroke="#1c1c24" stroke-width="0.1">0</text>
<text x="610.32" y="171.56" font-size="7.0" font-weight="normal" text-anchor="middle" fill="#1c1c24" stroke="#1c1c24" stroke-width="0.1">0</text>
<text x="642.28" y="171.56" font-size="7.0" font-weight="normal" text-anchor="middle" fill="#1c1c24" stroke="#1c1c24" stroke-width="0.1">65</text>
<text x="674.24" y="171.56" font-size="7.0" font-weight="normal" text-anchor="middle" fill="#1c1c24" stroke="#1c1c24" stroke-width="0.1">0</text>
<text x="706.20" y="171.56" font-size="7.0" font-weight="normal" text-anchor="middle" fill="#1c1c24" stroke="#1c1c24" stroke-width="0.1">0</text>
<text x="738.16" y="171.56" font-size="7.0" font-weight="normal" text-anchor="middle" fill="#1c1c24" stroke="#1c1c24" stroke-width="0.1">0</text>
<text x="770.12" y="171.56" font-size="7.0" font-weight="normal" text-anchor="middle" fill="#1c1c24" stroke="#1c1c24" stroke-width="0.1">0</text>
<text x="482.48" y="203.65" font-size="7.0" font-weight="normal" text-anchor="middle" fill="#1c1c24" stroke="#1c1c24" stroke-width="0.1">3</text>
<text x="514.44" y="203.65" font-size="7.0" font-weight="normal" text-anchor="middle" fill="#1c1c24" stroke="#1c1c24" stroke-width="0.1">2</text>
<text x="546.40" y="203.65" font-size="7.0" font-weight="normal" text-anchor="middle" fill="#1c1c24" stroke="#1c1c24" stroke-width="0.1">0</text>
<text x="578.36" y="203.65" font-size="7.0" font-weight="normal" text-anchor="middle" fill="#1c1c24" stroke="#1c1c24" stroke-width="0.1">1</text>
<text x="610.32" y="203.65" font-size="7.0" font-weight="normal" text-anchor="middle" fill="#1c1c24" stroke="#1c1c24" stroke-width="0.1">92</text>
<text x="642.28" y="203.65" font-size="7.0" font-weight="normal" text-anchor="middle" fill="#1c1c24" stroke="#1c1c24" stroke-width="0.1">0</text>
<text x="674.24" y="203.65" font-size="7.0" font-weight="normal" text-anchor="middle" fill="#1c1c24" stroke="#1c1c24" stroke-width="0.1">1</text>
<text x="706.20" y="203.65" font-size="7.0" font-weight="normal" text-anchor="middle" fill="#1c1c24" stroke="#1c1c24" stroke-width="0.1">0</text>
<text x="738.16" y="203.65" font-size="7.0" font-weight="normal" text-anchor="middle" fill="#1c1c24" stroke="#1c1c24" stroke-width="0.1">0</text>
<text x="770.12" y="203.65" font-size="7.0" font-weight="normal" text-anchor="middle" fill="#1c1c24" stroke="#1c1c24" stroke-width="0.1">0</text>
<text x="482.48" y="235.74" font-size="7.0" font-weight="normal" text-anchor="middle" fill="#1c1c24" stroke="#1c1c24" stroke-width="0.1">4</text>
<text x="514.44" y="235.74" font-size="7.0" font-weight="normal" text-anchor="middle" fill="#1c1c24" stroke="#1c1c24" stroke-width="0.1">2</text>
<text x="546.40" y="235.74" font-size="7.0" font-weight="normal" text-anchor="middle" fill="#1c1c24" stroke="#1c1c24" stroke-width="0.1">4</text>
<text x="578.36" y="235.74" font-size="7.0" font-weight="normal" text-anchor="middle" fill="#1c1c24" stroke="#1c1c24" stroke-width="0.1">75</text>
<text x="610.32" y="235.74" font-size="7.0" font-weight="normal" text-anchor="middle" fill="#1c1c24" stroke="#1c1c24" stroke-width="0.1">1</text>
<text x="642.28" y="235.74" font-size="7.0" font-weight="normal" text-anchor="middle" fill="#1c1c24" stroke="#1c1c24" stroke-width="0.1">5</text>
<text x="674.24" y="235.74" font-size="7.0" font-weight="normal" text-anchor="middle" fill="#1c1c24" stroke="#1c1c24" stroke-width="0.1">11</text>
<text x="706.20" y="235.74" font-size="7.0" font-weight="normal" text-anchor="middle" fill="#1c1c24" stroke="#1c1c24" stroke-width="0.1">0</text>
<text x="738.16" y="235.74" font-size="7.0" font-weight="normal" text-anchor="middle" fill="#1c1c24" stroke="#1c1c24" stroke-width="0.1">3</text>
<text x="770.12" y="235.74" font-size="7.0" font-weight="normal" text-anchor="middle" fill="#1c1c24" stroke="#1c1c24" stroke-width="0.1">3</text>
<text x="482.48" y="267.82" font-size="7.0" font-weight="normal" text-anchor="middle" fill="#1c1c24" stroke="#1c1c24" stroke-width="0.1">4</text>
<text x="514.44" y="267.82" font-size="7.0" font-weight="normal" text-anchor="middle" fill="#1c1c24" stroke="#1c1c24" stroke-width="0.1">5</text>
<text x="546.40" y="267.82" font-size="7.0" font-weight="normal" text-anchor="middle" fill="#1c1c24" stroke="#1c1c24" stroke-width="0.1">72</text>
<text x="578.36" y="267.82" font-size="7.0" font-weight="normal" text-anchor="middle" fill="#1c1c24" stroke="#1c1c24" stroke-width="0.1">9</text>
<text x="610.32" y="267.82" font-size="7.0" font-weight="normal" text-anchor="middle" fill="#1c1c24" stroke="#1c1c24" stroke-width="0.1">1</text>
<text x="642.28" y="267.82" font-size="7.0" font-weight="normal" text-anchor="middle" fill="#1c1c24" stroke="#1c1c24" stroke-width="0.1">4</text>
<text x="674.24" y="267.82" font-size="7.0" font-weight="normal" text-anchor="middle" fill="#1c1c24" stroke="#1c1c24" stroke-width="0.1">3</text>
<text x="706.20" y="267.82" font-size="7.0" font-weight="normal" text-anchor="middle" fill="#1c1c24" stroke="#1c1c24" stroke-width="0.1">11</text>
<text x="738.16" y="267.82" font-size="7.0" font-weight="normal" text-anchor="middle" fill="#1c1c24" stroke="#1c1c24" stroke-width="0.1">0</text>
<text x="770.12" y="267.82" font-size="7.0" font-weight="normal" text-anchor="middle" fill="#1c1c24" stroke="#1c1c24" stroke-width="0.1">3</text>
<text x="482.48" y="299.92" font-size="7.0" font-weight="normal" text-anchor="middle" fill="#1c1c24" stroke="#1c1c24" stroke-width="0.1">0</text>
<text x="514.44" y="299.92" font-size="7.0" font-weight="normal" text-anchor="middle" fill="#1c1c24" stroke="#1c1c24" stroke-width="0.1">73</text>
<text x="546.40" y="299.92" font-size="7.0" font-weight="normal" text-anchor="middle" fill="#1c1c24" stroke="#1c1c24" stroke-width="0.1">1</text>
<text x="578.36" y="299.92" font-size="7.0" font-weight="normal" text-anchor="middle" fill="#1c1c24" stroke="#1c1c24" stroke-width="0.1">1</text>
<text x="610.32" y="299.92" font-size="7.0" font-weight="normal" text-anchor="middle" fill="#1c1c24" stroke="#1c1c24" stroke-width="0.1">1</text>
<text x="642.28" y="299.92" font-size="7.0" font-weight="normal" text-anchor="middle" fill="#1c1c24" stroke="#1c1c24" stroke-width="0.1">0</text>
<text x="674.24" y="299.92" font-size="7.0" font-weight="normal" text-anchor="middle" fill="#1c1c24" stroke="#1c1c24" stroke-width="0.1">0</text>
<text x="706.20" y="299.92" font-size="7.0" font-weight="normal" text-anchor="middle" fill="#1c1c24" stroke="#1c1c24" stroke-width="0.1">0</text>
<text x="738.16" y="299.92" font-size="7.0" font-weight="normal" text-anchor="middle" fill="#1c1c24" stroke="#1c1c24" stroke-width="0.1">0</text>
<text x="770.12" y="299.92" font-size="7.0" font-weight="normal" text-anchor="middle" fill="#1c1c24" stroke="#1c1c24" stroke-width="0.1">0</text>
<text x="482.48" y="332.01" font-size="7.0" font-weight="normal" text-anchor="middle" fill="#1c1c24" stroke="#1c1c24" stroke-width="0.1">77</text>
<text x="514.44" y="332.01" font-size="7.0" font-weight="normal" text-anchor="middle" fill="#1c1c24" stroke="#1c1c24" stroke-width="0.1">0</text>
<text x="546.40" y="332.01" font-size="7.0" font-weight="normal" text-anchor="middle" fill="#1c1c24" stroke="#1c1c24" stroke-width="0.1">4</text>
<text x="578.36" y="332.01" font-size="7.0" font-weight="normal" text-anchor="middle" fill="#1c1c24" stroke="#1c1c24" stroke-width="0.1">1</text>
<text x="610.32" y="332.01" font-size="7.0" font-weight="normal" text-anchor="middle" fill="#1c1c24" stroke="#1c1c24" stroke-width="0.1">1</text>
<text x="642.28" y="332.01" font-size="7.0" font-weight="normal" text-anchor="middle" fill="#1c1c24" stroke="#1c1c24" stroke-width="0.1">6</text>
<text x="674.24" y="332.01" font-size="7.0" font-weight="normal" text-anchor="middle" fill="#1c1c24" stroke="#1c1c24" stroke-width="0.1">2</text>
<text x="706.20" y="332.01" font-size="7.0" font-weight="normal" text-anchor="middle" fill="#1c1c24" stroke="#1c1c24" stroke-width="0.1">2</text>
<text x="738.16" y="332.01" font-size="7.0" font-weight="normal" text-anchor="middle" fill="#1c1c24" stroke="#1c1c24" stroke-width="0.1">2</text>
<text x="770.12" y="332.01" font-size="7.0" font-weight="normal" text-anchor="middle" fill="#1c1c24" stroke="#1c1c24" stroke-width="0.1">1</text>
<text x="460.60" y="43.84" font-size="9.2" font-weight="normal" text-anchor="end" fill="#262626" stroke="#262626" stroke-width="0.22">10</text>
<rect x="462.10" y="40.05" width="1.2" height="1" fill="#888"/>
<text x="460.60" y="75.94" font-size="9.2" font-weight="normal" text-anchor="end" fill="#262626" stroke="#262626" stroke-width="0.22">9</text>
<rect x="462.10" y="72.14" width="1.2" height="1" fill="#888"/>
<text x="460.60" y="108.03" font-size="9.2" font-weight="normal" text-anchor="end" fill="#262626" stroke="#262626" stroke-width="0.22">8</text>
<rect x="462.10" y="104.23" width="1.2" height="1" fill="#888"/>
<text x="460.60" y="140.12" font-size="9.2" font-weight="normal" text-anchor="end" fill="#262626" stroke="#262626" stroke-width="0.22">7</text>
<rect x="462.10" y="136.31" width="1.2" height="1" fill="#888"/>
<text x="460.60" y="172.21" font-size="9.2" font-weight="normal" text-anchor="end" fill="#262626" stroke="#262626" stroke-width="0.22">6</text>
<rect x="462.10" y="168.41" width="1.2" height="1" fill="#888"/>
<text x="460.60" y="204.30" font-size="9.2" font-weight="normal" text-anchor="end" fill="#262626" stroke="#262626" stroke-width="0.22">5</text>
<rect x="462.10" y="200.50" width="1.2" height="1" fill="#888"/>
<text x="460.60" y="236.39" font-size="9.2" font-weight="normal" text-anchor="end" fill="#262626" stroke="#262626" stroke-width="0.22">4</text>
<rect x="462.10" y="232.59" width="1.2" height="1" fill="#888"/>
<text x="460.60" y="268.48" font-size="9.2" font-weight="normal" text-anchor="end" fill="#262626" stroke="#262626" stroke-width="0.22">3</text>
<rect x="462.10" y="264.68" width="1.2" height="1" fill="#888"/>
<text x="460.60" y="300.57" font-size="9.2" font-weight="normal" text-anchor="end" fill="#262626" stroke="#262626" stroke-width="0.22">2</text>
<rect x="462.10" y="296.77" width="1.2" height="1" fill="#888"/>
<text x="460.60" y="332.66" font-size="9.2" font-weight="normal" text-anchor="end" fill="#262626" stroke="#262626" stroke-width="0.22">1</text>
<rect x="462.10" y="328.86" width="1.2" height="1" fill="#888"/>
<text x="482.48" y="357.90" font-size="9.2" font-weight="normal" text-anchor="middle" fill="#262626" stroke="#262626" stroke-width="0.22">1</text>
<rect x="481.98" y="348.80" width="1" height="1" fill="#888"/>
<text x="514.44" y="357.90" font-size="9.2" font-weight="normal" text-anchor="middle" fill="#262626" stroke="#262626" stroke-width="0.22">2</text>
<rect x="513.94" y="348.80" width="1" height="1" fill="#888"/>
<text x="546.40" y="357.90" font-size="9.2" font-weight="normal" text-anchor="middle" fill="#262626" stroke="#262626" stroke-width="0.22">3</text>
<rect x="545.90" y="348.80" width="1" height="1" fill="#888"/>
<text x="578.36" y="357.90" font-size="9.2" font-weight="normal" text-anchor="middle" fill="#262626" stroke="#262626" stroke-width="0.22">4</text>
<rect x="577.86" y="348.80" width="1" height="1" fill="#888"/>
<text x="610.32" y="357.90" font-size="9.2" font-weight="normal" text-anchor="middle" fill="#262626" stroke="#262626" stroke-width="0.22">5</text>
<rect x="609.82" y="348.80" width="1" height="1" fill="#888"/>
<text x="642.28" y="357.90" font-size="9.2" font-weight="normal" text-anchor="middle" fill="#262626" stroke="#262626" stroke-width="0.22">6</text>
<rect x="641.78" y="348.80" width="1" height="1" fill="#888"/>
<text x="674.24" y="357.90" font-size="9.2" font-weight="normal" text-anchor="middle" fill="#262626" stroke="#262626" stroke-width="0.22">7</text>
<rect x="673.74" y="348.80" width="1" height="1" fill="#888"/>
<text x="706.20" y="357.90" font-size="9.2" font-weight="normal" text-anchor="middle" fill="#262626" stroke="#262626" stroke-width="0.22">8</text>
<rect x="705.70" y="348.80" width="1" height="1" fill="#888"/>
<text x="738.16" y="357.90" font-size="9.2" font-weight="normal" text-anchor="middle" fill="#262626" stroke="#262626" stroke-width="0.22">9</text>
<rect x="737.66" y="348.80" width="1" height="1" fill="#888"/>
<text x="770.12" y="357.90" font-size="9.2" font-weight="normal" text-anchor="middle" fill="#262626" stroke="#262626" stroke-width="0.22">10</text>
<rect x="769.62" y="348.80" width="1" height="1" fill="#888"/>
<text x="626.30" y="367.60" font-size="9.8" font-weight="bold" text-anchor="middle" fill="#1a1a1a" stroke="#1a1a1a" stroke-width="0.2">True Integrative Cluster Label</text>
<text transform="translate(447.70,184.95) rotate(-90)" x="0" y="0" font-size="9.9" font-weight="bold" text-anchor="middle" fill="#1a1a1a" stroke="#1a1a1a" stroke-width="0.2">XGBoost Prediction</text>
<rect x="29.7" y="431.3" width="353.0" height="135" fill="none" stroke="#fafafa" stroke-width="1"/>
<text x="1.20" y="424.60" font-size="17" font-weight="bold" text-anchor="start" fill="#000" stroke="#000" stroke-width="0.2">B</text>
<rect x="77.20" y="437.30" width="27.45" height="31.43" fill="#f1f9ac"/>
<rect x="104.59" y="437.30" width="27.45" height="31.43" fill="#ffffbf"/>
<rect x="131.99" y="437.30" width="27.45" height="31.43" fill="#f1f9ac"/>
<rect x="159.38" y="437.30" width="27.45" height="31.43" fill="#ffffbf"/>
<rect x="186.78" y="437.30" width="27.45" height="31.43" fill="#5db258"/>
<rect x="214.18" y="437.30" width="27.45" height="31.43" fill="#fea869"/>
<rect x="241.57" y="437.30" width="27.45" height="31.43" fill="#ffffbf"/>
<rect x="268.96" y="437.30" width="27.45" height="31.43" fill="#bae178"/>
<rect x="296.36" y="437.30" width="27.45" height="31.43" fill="#dbf08d"/>
<rect x="323.75" y="437.30" width="27.45" height="31.43" fill="#82c65d"/>
<rect x="351.15" y="437.30" width="27.45" height="31.43" fill="#e4f49a"/>
<rect x="77.20" y="468.68" width="27.45" height="31.43" fill="#ffe593"/>
<rect x="104.59" y="468.68" width="27.45" height="31.43" fill="#50ac56"/>
<rect x="131.99" y="468.68" width="27.45" height="31.43" fill="#edf7a6"/>
<rect x="159.38" y="468.68" width="27.45" height="31.43" fill="#e4f49a"/>
<rect x="186.78" y="468.68" width="27.45" height="31.43" fill="#319f52"/>
<rect x="214.18" y="468.68" width="27.45" height="31.43" fill="#41a554"/>
<rect x="241.57" y="468.68" width="27.45" height="31.43" fill="#fff8b2"/>
<rect x="268.96" y="468.68" width="27.45" height="31.43" fill="#e8f5a0"/>
<rect x="296.36" y="468.68" width="27.45" height="31.43" fill="#ffd081"/>
<rect x="323.75" y="468.68" width="27.45" height="31.43" fill="#dbf08d"/>
<rect x="351.15" y="468.68" width="27.45" height="31.43" fill="#dff293"/>
<rect x="77.20" y="500.06" width="27.45" height="31.43" fill="#b1dd73"/>
<rect x="104.59" y="500.06" width="27.45" height="31.43" fill="#bae178"/>
<rect x="131.99" y="500.06" width="27.45" height="31.43" fill="#bae178"/>
<rect x="159.38" y="500.06" width="27.45" height="31.43" fill="#c2e57d"/>
<rect x="186.78" y="500.06" width="27.45" height="31.43" fill="#41a554"/>
<rect x="214.18" y="500.06" width="27.45" height="31.43" fill="#e4f49a"/>
<rect x="241.57" y="500.06" width="27.45" height="31.43" fill="#c2e57d"/>
<rect x="268.96" y="500.06" width="27.45" height="31.43" fill="#8dcd5f"/>
<rect x="296.36" y="500.06" width="27.45" height="31.43" fill="#a0d569"/>
<rect x="323.75" y="500.06" width="27.45" height="31.43" fill="#6ab95a"/>
<rect x="351.15" y="500.06" width="27.45" height="31.43" fill="#a8d96e"/>
<path d="M77.20 437.30V531.44M104.59 437.30V531.44M131.99 437.30V531.44M159.38 437.30V531.44M186.78 437.30V531.44M214.18 437.30V531.44M241.57 437.30V531.44M268.96 437.30V531.44M296.36 437.30V531.44M323.75 437.30V531.44M351.15 437.30V531.44M378.54 437.30V531.44M77.20 437.30H378.54M77.20 468.68H378.54M77.20 500.06H378.54M77.20 531.44H378.54" fill="none" stroke="rgba(0,0,0,0.16)" stroke-width="0.8"/>
<text x="90.90" y="456.09" font-size="7.0" font-weight="normal" text-anchor="middle" fill="#1c1c1c" stroke="#1c1c1c" stroke-width="0.1">78</text>
<text x="118.29" y="456.09" font-size="7.0" font-weight="normal" text-anchor="middle" fill="#1c1c1c" stroke="#1c1c1c" stroke-width="0.1">75</text>
<text x="145.69" y="456.09" font-size="7.0" font-weight="normal" text-anchor="middle" fill="#1c1c1c" stroke="#1c1c1c" stroke-width="0.1">78</text>
<text x="173.08" y="456.09" font-size="7.0" font-weight="normal" text-anchor="middle" fill="#1c1c1c" stroke="#1c1c1c" stroke-width="0.1">75</text>
<text x="200.48" y="456.09" font-size="7.0" font-weight="normal" text-anchor="middle" fill="#1c1c1c" stroke="#1c1c1c" stroke-width="0.1">96</text>
<text x="227.87" y="456.09" font-size="7.0" font-weight="normal" text-anchor="middle" fill="#1c1c1c" stroke="#1c1c1c" stroke-width="0.1">61</text>
<text x="255.27" y="456.09" font-size="7.0" font-weight="normal" text-anchor="middle" fill="#1c1c1c" stroke="#1c1c1c" stroke-width="0.1">75</text>
<text x="282.66" y="456.09" font-size="7.0" font-weight="normal" text-anchor="middle" fill="#1c1c1c" stroke="#1c1c1c" stroke-width="0.1">87</text>
<text x="310.06" y="456.09" font-size="7.0" font-weight="normal" text-anchor="middle" fill="#1c1c1c" stroke="#1c1c1c" stroke-width="0.1">83</text>
<text x="337.45" y="456.09" font-size="7.0" font-weight="normal" text-anchor="middle" fill="#1c1c1c" stroke="#1c1c1c" stroke-width="0.1">93</text>
<text x="364.85" y="456.09" font-size="7.0" font-weight="normal" text-anchor="middle" fill="#1c1c1c" stroke="#1c1c1c" stroke-width="0.1">81</text>
<text x="90.90" y="487.47" font-size="7.0" font-weight="normal" text-anchor="middle" fill="#1c1c1c" stroke="#1c1c1c" stroke-width="0.1">68</text>
<text x="118.29" y="487.47" font-size="7.0" font-weight="normal" text-anchor="middle" fill="#1c1c1c" stroke="#1c1c1c" stroke-width="0.1">97</text>
<text x="145.69" y="487.47" font-size="7.0" font-weight="normal" text-anchor="middle" fill="#1c1c1c" stroke="#1c1c1c" stroke-width="0.1">79</text>
<text x="173.08" y="487.47" font-size="7.0" font-weight="normal" text-anchor="middle" fill="#1c1c1c" stroke="#1c1c1c" stroke-width="0.1">81</text>
<text x="200.48" y="487.47" font-size="7.0" font-weight="normal" text-anchor="middle" fill="#1c1c1c" stroke="#1c1c1c" stroke-width="0.1">99</text>
<text x="227.87" y="487.47" font-size="7.0" font-weight="normal" text-anchor="middle" fill="#1c1c1c" stroke="#1c1c1c" stroke-width="0.1">98</text>
<text x="255.27" y="487.47" font-size="7.0" font-weight="normal" text-anchor="middle" fill="#1c1c1c" stroke="#1c1c1c" stroke-width="0.1">73</text>
<text x="282.66" y="487.47" font-size="7.0" font-weight="normal" text-anchor="middle" fill="#1c1c1c" stroke="#1c1c1c" stroke-width="0.1">80</text>
<text x="310.06" y="487.47" font-size="7.0" font-weight="normal" text-anchor="middle" fill="#1c1c1c" stroke="#1c1c1c" stroke-width="0.1">65</text>
<text x="337.45" y="487.47" font-size="7.0" font-weight="normal" text-anchor="middle" fill="#1c1c1c" stroke="#1c1c1c" stroke-width="0.1">83</text>
<text x="364.85" y="487.47" font-size="7.0" font-weight="normal" text-anchor="middle" fill="#1c1c1c" stroke="#1c1c1c" stroke-width="0.1">82</text>
<text x="90.90" y="518.85" font-size="7.0" font-weight="normal" text-anchor="middle" fill="#1c1c1c" stroke="#1c1c1c" stroke-width="0.1">88</text>
<text x="118.29" y="518.85" font-size="7.0" font-weight="normal" text-anchor="middle" fill="#1c1c1c" stroke="#1c1c1c" stroke-width="0.1">87</text>
<text x="145.69" y="518.85" font-size="7.0" font-weight="normal" text-anchor="middle" fill="#1c1c1c" stroke="#1c1c1c" stroke-width="0.1">87</text>
<text x="173.08" y="518.85" font-size="7.0" font-weight="normal" text-anchor="middle" fill="#1c1c1c" stroke="#1c1c1c" stroke-width="0.1">86</text>
<text x="200.48" y="518.85" font-size="7.0" font-weight="normal" text-anchor="middle" fill="#1c1c1c" stroke="#1c1c1c" stroke-width="0.1">98</text>
<text x="227.87" y="518.85" font-size="7.0" font-weight="normal" text-anchor="middle" fill="#1c1c1c" stroke="#1c1c1c" stroke-width="0.1">81</text>
<text x="255.27" y="518.85" font-size="7.0" font-weight="normal" text-anchor="middle" fill="#1c1c1c" stroke="#1c1c1c" stroke-width="0.1">86</text>
<text x="282.66" y="518.85" font-size="7.0" font-weight="normal" text-anchor="middle" fill="#1c1c1c" stroke="#1c1c1c" stroke-width="0.1">92</text>
<text x="310.06" y="518.85" font-size="7.0" font-weight="normal" text-anchor="middle" fill="#1c1c1c" stroke="#1c1c1c" stroke-width="0.1">90</text>
<text x="337.45" y="518.85" font-size="7.0" font-weight="normal" text-anchor="middle" fill="#1c1c1c" stroke="#1c1c1c" stroke-width="0.1">95</text>
<text x="364.85" y="518.85" font-size="7.0" font-weight="normal" text-anchor="middle" fill="#1c1c1c" stroke="#1c1c1c" stroke-width="0.1">89</text>
<text x="72.20" y="456.19" font-size="8.9" font-weight="bold" text-anchor="end" fill="#111" stroke="#111" stroke-width="0.2">Recall</text>
<text x="72.20" y="487.57" font-size="8.9" font-weight="bold" text-anchor="end" fill="#111" stroke="#111" stroke-width="0.2">Precision</text>
<text x="72.20" y="513.70" font-size="8.9" font-weight="bold" text-anchor="end" fill="#111" stroke="#111" stroke-width="0.2">Balanced</text>
<text x="72.20" y="523.60" font-size="8.9" font-weight="bold" text-anchor="end" fill="#111" stroke="#111" stroke-width="0.2">Accuracy</text>
<text x="90.90" y="543.20" font-size="9.0" font-weight="normal" text-anchor="middle" fill="#262626" stroke="#262626" stroke-width="0.22">1</text>
<text x="118.29" y="543.20" font-size="9.0" font-weight="normal" text-anchor="middle" fill="#262626" stroke="#262626" stroke-width="0.22">2</text>
<text x="145.69" y="543.20" font-size="9.0" font-weight="normal" text-anchor="middle" fill="#262626" stroke="#262626" stroke-width="0.22">3</text>
<text x="173.08" y="543.20" font-size="9.0" font-weight="normal" text-anchor="middle" fill="#262626" stroke="#262626" stroke-width="0.22">4</text>
<text x="200.48" y="543.20" font-size="9.0" font-weight="normal" text-anchor="middle" fill="#262626" stroke="#262626" stroke-width="0.22">5</text>
<text x="227.87" y="543.20" font-size="9.0" font-weight="normal" text-anchor="middle" fill="#262626" stroke="#262626" stroke-width="0.22">6</text>
<text x="255.27" y="543.20" font-size="9.0" font-weight="normal" text-anchor="middle" fill="#262626" stroke="#262626" stroke-width="0.22">7</text>
<text x="282.66" y="543.20" font-size="9.0" font-weight="normal" text-anchor="middle" fill="#262626" stroke="#262626" stroke-width="0.22">8</text>
<text x="310.06" y="543.20" font-size="9.0" font-weight="normal" text-anchor="middle" fill="#262626" stroke="#262626" stroke-width="0.22">9</text>
<text x="337.45" y="543.20" font-size="9.0" font-weight="normal" text-anchor="middle" fill="#262626" stroke="#262626" stroke-width="0.22">10</text>
<text x="364.85" y="543.20" font-size="9.0" font-weight="normal" text-anchor="middle" fill="#262626" stroke="#262626" stroke-width="0.22">All</text>
<text x="227.87" y="553.40" font-size="9.9" font-weight="bold" text-anchor="middle" fill="#1a1a1a" stroke="#1a1a1a" stroke-width="0.2">Integrative Cluster</text>
<rect x="438.5" y="431.3" width="353.0" height="135" fill="none" stroke="#fafafa" stroke-width="1"/>
<text x="409.90" y="424.60" font-size="17" font-weight="bold" text-anchor="start" fill="#000" stroke="#000" stroke-width="0.2">D</text>
<rect x="486.00" y="437.30" width="27.40" height="31.43" fill="#f6fbb3"/>
<rect x="513.35" y="437.30" width="27.40" height="31.43" fill="#fff8b2"/>
<rect x="540.70" y="437.30" width="27.40" height="31.43" fill="#fff4ac"/>
<rect x="568.05" y="437.30" width="27.40" height="31.43" fill="#ffffbf"/>
<rect x="595.40" y="437.30" width="27.40" height="31.43" fill="#8dcd5f"/>
<rect x="622.75" y="437.30" width="27.40" height="31.43" fill="#ffd081"/>
<rect x="650.10" y="437.30" width="27.40" height="31.43" fill="#fffbb9"/>
<rect x="677.45" y="437.30" width="27.40" height="31.43" fill="#cbe982"/>
<rect x="704.80" y="437.30" width="27.40" height="31.43" fill="#e8f5a0"/>
<rect x="732.15" y="437.30" width="27.40" height="31.43" fill="#a0d569"/>
<rect x="759.50" y="437.30" width="27.40" height="31.43" fill="#edf7a6"/>
<rect x="486.00" y="468.68" width="27.40" height="31.43" fill="#fff8b2"/>
<rect x="513.35" y="468.68" width="27.40" height="31.43" fill="#97d263"/>
<rect x="540.70" y="468.68" width="27.40" height="31.43" fill="#fbfdb9"/>
<rect x="568.05" y="468.68" width="27.40" height="31.43" fill="#fbfdb9"/>
<rect x="595.40" y="468.68" width="27.40" height="31.43" fill="#6ab95a"/>
<rect x="622.75" y="468.68" width="27.40" height="31.43" fill="#41a554"/>
<rect x="650.10" y="468.68" width="27.40" height="31.43" fill="#fffbb9"/>
<rect x="677.45" y="468.68" width="27.40" height="31.43" fill="#fbfdb9"/>
<rect x="704.80" y="468.68" width="27.40" height="31.43" fill="#ffd081"/>
<rect x="732.15" y="468.68" width="27.40" height="31.43" fill="#f1f9ac"/>
<rect x="759.50" y="468.68" width="27.40" height="31.43" fill="#e8f5a0"/>
<rect x="486.00" y="500.06" width="27.40" height="31.43" fill="#bae178"/>
<rect x="513.35" y="500.06" width="27.40" height="31.43" fill="#c2e57d"/>
<rect x="540.70" y="500.06" width="27.40" height="31.43" fill="#dbf08d"/>
<rect x="568.05" y="500.06" width="27.40" height="31.43" fill="#c2e57d"/>
<rect x="595.40" y="500.06" width="27.40" height="31.43" fill="#6ab95a"/>
<rect x="622.75" y="500.06" width="27.40" height="31.43" fill="#dff293"/>
<rect x="650.10" y="500.06" width="27.40" height="31.43" fill="#c2e57d"/>
<rect x="677.45" y="500.06" width="27.40" height="31.43" fill="#97d263"/>
<rect x="704.80" y="500.06" width="27.40" height="31.43" fill="#a8d96e"/>
<rect x="732.15" y="500.06" width="27.40" height="31.43" fill="#82c65d"/>
<rect x="759.50" y="500.06" width="27.40" height="31.43" fill="#b1dd73"/>
<path d="M486.00 437.30V531.44M513.35 437.30V531.44M540.70 437.30V531.44M568.05 437.30V531.44M595.40 437.30V531.44M622.75 437.30V531.44M650.10 437.30V531.44M677.45 437.30V531.44M704.80 437.30V531.44M732.15 437.30V531.44M759.50 437.30V531.44M786.85 437.30V531.44M486.00 437.30H786.85M486.00 468.68H786.85M486.00 500.06H786.85M486.00 531.44H786.85" fill="none" stroke="rgba(0,0,0,0.16)" stroke-width="0.8"/>
<text x="499.68" y="456.09" font-size="7.0" font-weight="normal" text-anchor="middle" fill="#1c1c1c" stroke="#1c1c1c" stroke-width="0.1">77</text>
<text x="527.02" y="456.09" font-size="7.0" font-weight="normal" text-anchor="middle" fill="#1c1c1c" stroke="#1c1c1c" stroke-width="0.1">73</text>
<text x="554.38" y="456.09" font-size="7.0" font-weight="normal" text-anchor="middle" fill="#1c1c1c" stroke="#1c1c1c" stroke-width="0.1">72</text>
<text x="581.72" y="456.09" font-size="7.0" font-weight="normal" text-anchor="middle" fill="#1c1c1c" stroke="#1c1c1c" stroke-width="0.1">75</text>
<text x="609.07" y="456.09" font-size="7.0" font-weight="normal" text-anchor="middle" fill="#1c1c1c" stroke="#1c1c1c" stroke-width="0.1">92</text>
<text x="636.42" y="456.09" font-size="7.0" font-weight="normal" text-anchor="middle" fill="#1c1c1c" stroke="#1c1c1c" stroke-width="0.1">65</text>
<text x="663.77" y="456.09" font-size="7.0" font-weight="normal" text-anchor="middle" fill="#1c1c1c" stroke="#1c1c1c" stroke-width="0.1">74</text>
<text x="691.12" y="456.09" font-size="7.0" font-weight="normal" text-anchor="middle" fill="#1c1c1c" stroke="#1c1c1c" stroke-width="0.1">85</text>
<text x="718.47" y="456.09" font-size="7.0" font-weight="normal" text-anchor="middle" fill="#1c1c1c" stroke="#1c1c1c" stroke-width="0.1">80</text>
<text x="745.82" y="456.09" font-size="7.0" font-weight="normal" text-anchor="middle" fill="#1c1c1c" stroke="#1c1c1c" stroke-width="0.1">90</text>
<text x="773.17" y="456.09" font-size="7.0" font-weight="normal" text-anchor="middle" fill="#1c1c1c" stroke="#1c1c1c" stroke-width="0.1">79</text>
<text x="499.68" y="487.47" font-size="7.0" font-weight="normal" text-anchor="middle" fill="#1c1c1c" stroke="#1c1c1c" stroke-width="0.1">73</text>
<text x="527.02" y="487.47" font-size="7.0" font-weight="normal" text-anchor="middle" fill="#1c1c1c" stroke="#1c1c1c" stroke-width="0.1">91</text>
<text x="554.38" y="487.47" font-size="7.0" font-weight="normal" text-anchor="middle" fill="#1c1c1c" stroke="#1c1c1c" stroke-width="0.1">76</text>
<text x="581.72" y="487.47" font-size="7.0" font-weight="normal" text-anchor="middle" fill="#1c1c1c" stroke="#1c1c1c" stroke-width="0.1">76</text>
<text x="609.07" y="487.47" font-size="7.0" font-weight="normal" text-anchor="middle" fill="#1c1c1c" stroke="#1c1c1c" stroke-width="0.1">95</text>
<text x="636.42" y="487.47" font-size="7.0" font-weight="normal" text-anchor="middle" fill="#1c1c1c" stroke="#1c1c1c" stroke-width="0.1">98</text>
<text x="663.77" y="487.47" font-size="7.0" font-weight="normal" text-anchor="middle" fill="#1c1c1c" stroke="#1c1c1c" stroke-width="0.1">74</text>
<text x="691.12" y="487.47" font-size="7.0" font-weight="normal" text-anchor="middle" fill="#1c1c1c" stroke="#1c1c1c" stroke-width="0.1">76</text>
<text x="718.47" y="487.47" font-size="7.0" font-weight="normal" text-anchor="middle" fill="#1c1c1c" stroke="#1c1c1c" stroke-width="0.1">65</text>
<text x="745.82" y="487.47" font-size="7.0" font-weight="normal" text-anchor="middle" fill="#1c1c1c" stroke="#1c1c1c" stroke-width="0.1">78</text>
<text x="773.17" y="487.47" font-size="7.0" font-weight="normal" text-anchor="middle" fill="#1c1c1c" stroke="#1c1c1c" stroke-width="0.1">80</text>
<text x="499.68" y="518.85" font-size="7.0" font-weight="normal" text-anchor="middle" fill="#1c1c1c" stroke="#1c1c1c" stroke-width="0.1">87</text>
<text x="527.02" y="518.85" font-size="7.0" font-weight="normal" text-anchor="middle" fill="#1c1c1c" stroke="#1c1c1c" stroke-width="0.1">86</text>
<text x="554.38" y="518.85" font-size="7.0" font-weight="normal" text-anchor="middle" fill="#1c1c1c" stroke="#1c1c1c" stroke-width="0.1">83</text>
<text x="581.72" y="518.85" font-size="7.0" font-weight="normal" text-anchor="middle" fill="#1c1c1c" stroke="#1c1c1c" stroke-width="0.1">86</text>
<text x="609.07" y="518.85" font-size="7.0" font-weight="normal" text-anchor="middle" fill="#1c1c1c" stroke="#1c1c1c" stroke-width="0.1">95</text>
<text x="636.42" y="518.85" font-size="7.0" font-weight="normal" text-anchor="middle" fill="#1c1c1c" stroke="#1c1c1c" stroke-width="0.1">82</text>
<text x="663.77" y="518.85" font-size="7.0" font-weight="normal" text-anchor="middle" fill="#1c1c1c" stroke="#1c1c1c" stroke-width="0.1">86</text>
<text x="691.12" y="518.85" font-size="7.0" font-weight="normal" text-anchor="middle" fill="#1c1c1c" stroke="#1c1c1c" stroke-width="0.1">91</text>
<text x="718.47" y="518.85" font-size="7.0" font-weight="normal" text-anchor="middle" fill="#1c1c1c" stroke="#1c1c1c" stroke-width="0.1">89</text>
<text x="745.82" y="518.85" font-size="7.0" font-weight="normal" text-anchor="middle" fill="#1c1c1c" stroke="#1c1c1c" stroke-width="0.1">93</text>
<text x="773.17" y="518.85" font-size="7.0" font-weight="normal" text-anchor="middle" fill="#1c1c1c" stroke="#1c1c1c" stroke-width="0.1">88</text>
<text x="481.00" y="456.19" font-size="8.9" font-weight="bold" text-anchor="end" fill="#111" stroke="#111" stroke-width="0.2">Recall</text>
<text x="481.00" y="487.57" font-size="8.9" font-weight="bold" text-anchor="end" fill="#111" stroke="#111" stroke-width="0.2">Precision</text>
<text x="481.00" y="513.70" font-size="8.9" font-weight="bold" text-anchor="end" fill="#111" stroke="#111" stroke-width="0.2">Balanced</text>
<text x="481.00" y="523.60" font-size="8.9" font-weight="bold" text-anchor="end" fill="#111" stroke="#111" stroke-width="0.2">Accuracy</text>
<text x="499.68" y="543.20" font-size="9.0" font-weight="normal" text-anchor="middle" fill="#262626" stroke="#262626" stroke-width="0.22">1</text>
<text x="527.02" y="543.20" font-size="9.0" font-weight="normal" text-anchor="middle" fill="#262626" stroke="#262626" stroke-width="0.22">2</text>
<text x="554.38" y="543.20" font-size="9.0" font-weight="normal" text-anchor="middle" fill="#262626" stroke="#262626" stroke-width="0.22">3</text>
<text x="581.72" y="543.20" font-size="9.0" font-weight="normal" text-anchor="middle" fill="#262626" stroke="#262626" stroke-width="0.22">4</text>
<text x="609.07" y="543.20" font-size="9.0" font-weight="normal" text-anchor="middle" fill="#262626" stroke="#262626" stroke-width="0.22">5</text>
<text x="636.42" y="543.20" font-size="9.0" font-weight="normal" text-anchor="middle" fill="#262626" stroke="#262626" stroke-width="0.22">6</text>
<text x="663.77" y="543.20" font-size="9.0" font-weight="normal" text-anchor="middle" fill="#262626" stroke="#262626" stroke-width="0.22">7</text>
<text x="691.12" y="543.20" font-size="9.0" font-weight="normal" text-anchor="middle" fill="#262626" stroke="#262626" stroke-width="0.22">8</text>
<text x="718.47" y="543.20" font-size="9.0" font-weight="normal" text-anchor="middle" fill="#262626" stroke="#262626" stroke-width="0.22">9</text>
<text x="745.82" y="543.20" font-size="9.0" font-weight="normal" text-anchor="middle" fill="#262626" stroke="#262626" stroke-width="0.22">10</text>
<text x="773.17" y="543.20" font-size="9.0" font-weight="normal" text-anchor="middle" fill="#262626" stroke="#262626" stroke-width="0.22">All</text>
<text x="636.42" y="553.40" font-size="9.9" font-weight="bold" text-anchor="middle" fill="#1a1a1a" stroke="#1a1a1a" stroke-width="0.2">Integrative Cluster</text>
</svg>
</body></html>
